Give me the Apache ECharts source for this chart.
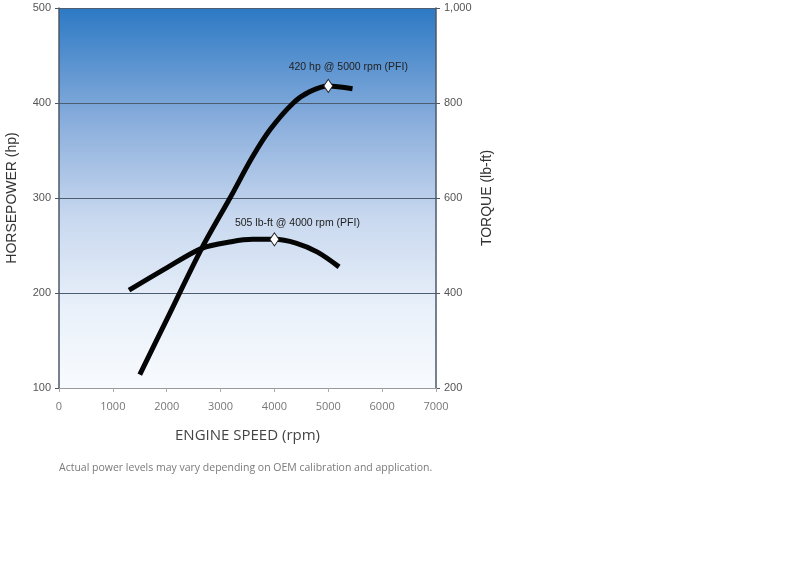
<!DOCTYPE html>
<html>
<head>
<meta charset="utf-8">
<script src="https://cdn.jsdelivr.net/npm/echarts@6/dist/echarts.min.js"></script>
<style>
  html, body { margin: 0; padding: 0; background: #fff; }
  #chart { width: 799px; height: 581px; }
</style>
</head>
<body>
<div id="chart"></div>
<script>
  // engine speed (rpm) and curve values
  var hpRpm = [1500, 2000, 2650, 3175, 3580, 3920, 4350, 4660, 5000, 5450]
  var hpValues = [114, 172, 247, 300, 342, 372, 400, 412, 418, 415]
  var tqRpm = [1300, 2000, 2650, 3200, 3600, 4000, 4400, 4800, 5200]
  var tqValues = [406, 453, 494, 508, 513, 513, 505, 486, 455]
  var hpTicks = [100, 200, 300, 400, 500]
  var tqTicks = [200, 400, 600, 800, 1000]
  var rpmTicks = [0, 1000, 2000, 3000, 4000, 5000, 6000, 7000]
  var hpPeak = [5000, 418]
  var tqPeak = [4000, 513]

  function pairs (xs, ys) {
    var out = []
    xs.forEach(function (x, i) { out.push([x, ys[i]]) })
    return out
  }

  var chart = echarts.init(document.getElementById('chart'))
  var labelFont = 'Liberation Sans, Arial, sans-serif'
  var thinFont = 'Open Sans, Lato, sans-serif'

  chart.setOption({
    animation: false,
    backgroundColor: '#fff',
    grid: {
      left: 59,
      right: 363,
      top: 8,
      bottom: 193,
      show: true,
      borderWidth: 0,
      backgroundColor: new echarts.graphic.LinearGradient(0, 0, 0, 1, [
        { offset: 0, color: '#2c79c4' },
        { offset: 0.3, color: '#8aaedc' },
        { offset: 0.55, color: '#c8d8ef' },
        { offset: 0.8, color: '#eaf1fa' },
        { offset: 1, color: '#f8fbfe' }
      ])
    },
    graphic: [{
      type: 'text',
      left: 59,
      top: 463,
      style: {
        text: 'Actual power levels may vary depending on OEM calibration and application.',
        fill: '#7a7a7a',
        font: '10.5px ' + thinFont
      }
    }],
    xAxis: {
      type: 'value',
      min: rpmTicks[0],
      max: rpmTicks[rpmTicks.length - 1],
      interval: 1000,
      name: 'ENGINE SPEED (rpm)',
      nameLocation: 'middle',
      nameGap: 40,
      nameTextStyle: { color: '#444', fontSize: 15, fontFamily: thinFont },
      axisLine: { lineStyle: { color: '#999', width: 1 } },
      axisTick: { show: true, length: 4, lineStyle: { color: '#aaa' } },
      axisLabel: {
        color: '#777',
        fontSize: 11,
        fontFamily: thinFont,
        margin: 13,
        formatter: function (v) { return String(v) }
      },
      splitLine: { show: false }
    },
    yAxis: [{
      type: 'value',
      min: hpTicks[0],
      max: hpTicks[hpTicks.length - 1],
      interval: 100,
      name: 'HORSEPOWER (hp)',
      nameLocation: 'middle',
      nameGap: 40,
      nameTextStyle: { color: '#333', fontSize: 14, fontFamily: labelFont },
      axisLine: { show: true, lineStyle: { color: '#4a5868', width: 1.5 } },
      axisTick: { show: true, length: 4, lineStyle: { color: '#4a5868' } },
      axisLabel: { color: '#555', fontSize: 11, fontFamily: labelFont, margin: 8 },
      splitLine: { show: true, lineStyle: { color: '#4d5d72', width: 1.2 } }
    }, {
      type: 'value',
      min: tqTicks[0],
      max: tqTicks[tqTicks.length - 1],
      interval: 200,
      name: 'TORQUE (lb-ft)',
      nameLocation: 'middle',
      nameGap: 44,
      nameTextStyle: { color: '#333', fontSize: 14, fontFamily: labelFont },
      axisLine: { show: true, lineStyle: { color: '#4a5868', width: 1.5 } },
      axisTick: { show: true, length: 4, lineStyle: { color: '#4a5868' } },
      axisLabel: {
        color: '#555',
        fontSize: 11,
        fontFamily: labelFont,
        margin: 8,
        formatter: function (v) { return v >= 1000 ? '1,000' : String(v) }
      },
      splitLine: { show: false }
    }],
    series: [{
      name: 'Horsepower',
      type: 'line',
      yAxisIndex: 0,
      smooth: 0.3,
      symbol: 'none',
      lineStyle: { color: '#050505', width: 5 },
      data: pairs(hpRpm, hpValues),
      markPoint: {
        symbol: 'diamond',
        symbolSize: [9, 13],
        itemStyle: { color: '#fff', borderColor: '#222', borderWidth: 1 },
        label: {
          show: true,
          position: 'top',
          distance: 6,
          offset: [20, 0],
          color: '#222',
          fontSize: 10.5,
          fontFamily: labelFont,
          formatter: '420 hp @ 5000 rpm (PFI)'
        },
        data: [{ coord: hpPeak }]
      }
    }, {
      name: 'Torque',
      type: 'line',
      yAxisIndex: 1,
      smooth: 0.3,
      symbol: 'none',
      lineStyle: { color: '#050505', width: 5 },
      data: pairs(tqRpm, tqValues),
      markPoint: {
        symbol: 'diamond',
        symbolSize: [9, 13],
        itemStyle: { color: '#fff', borderColor: '#222', borderWidth: 1 },
        label: {
          show: true,
          position: 'top',
          distance: 4,
          offset: [23, 0],
          color: '#222',
          fontSize: 10.5,
          fontFamily: labelFont,
          formatter: '505 lb-ft @ 4000 rpm (PFI)'
        },
        data: [{ coord: tqPeak }]
      }
    }]
  })
</script>
</body>
</html>
